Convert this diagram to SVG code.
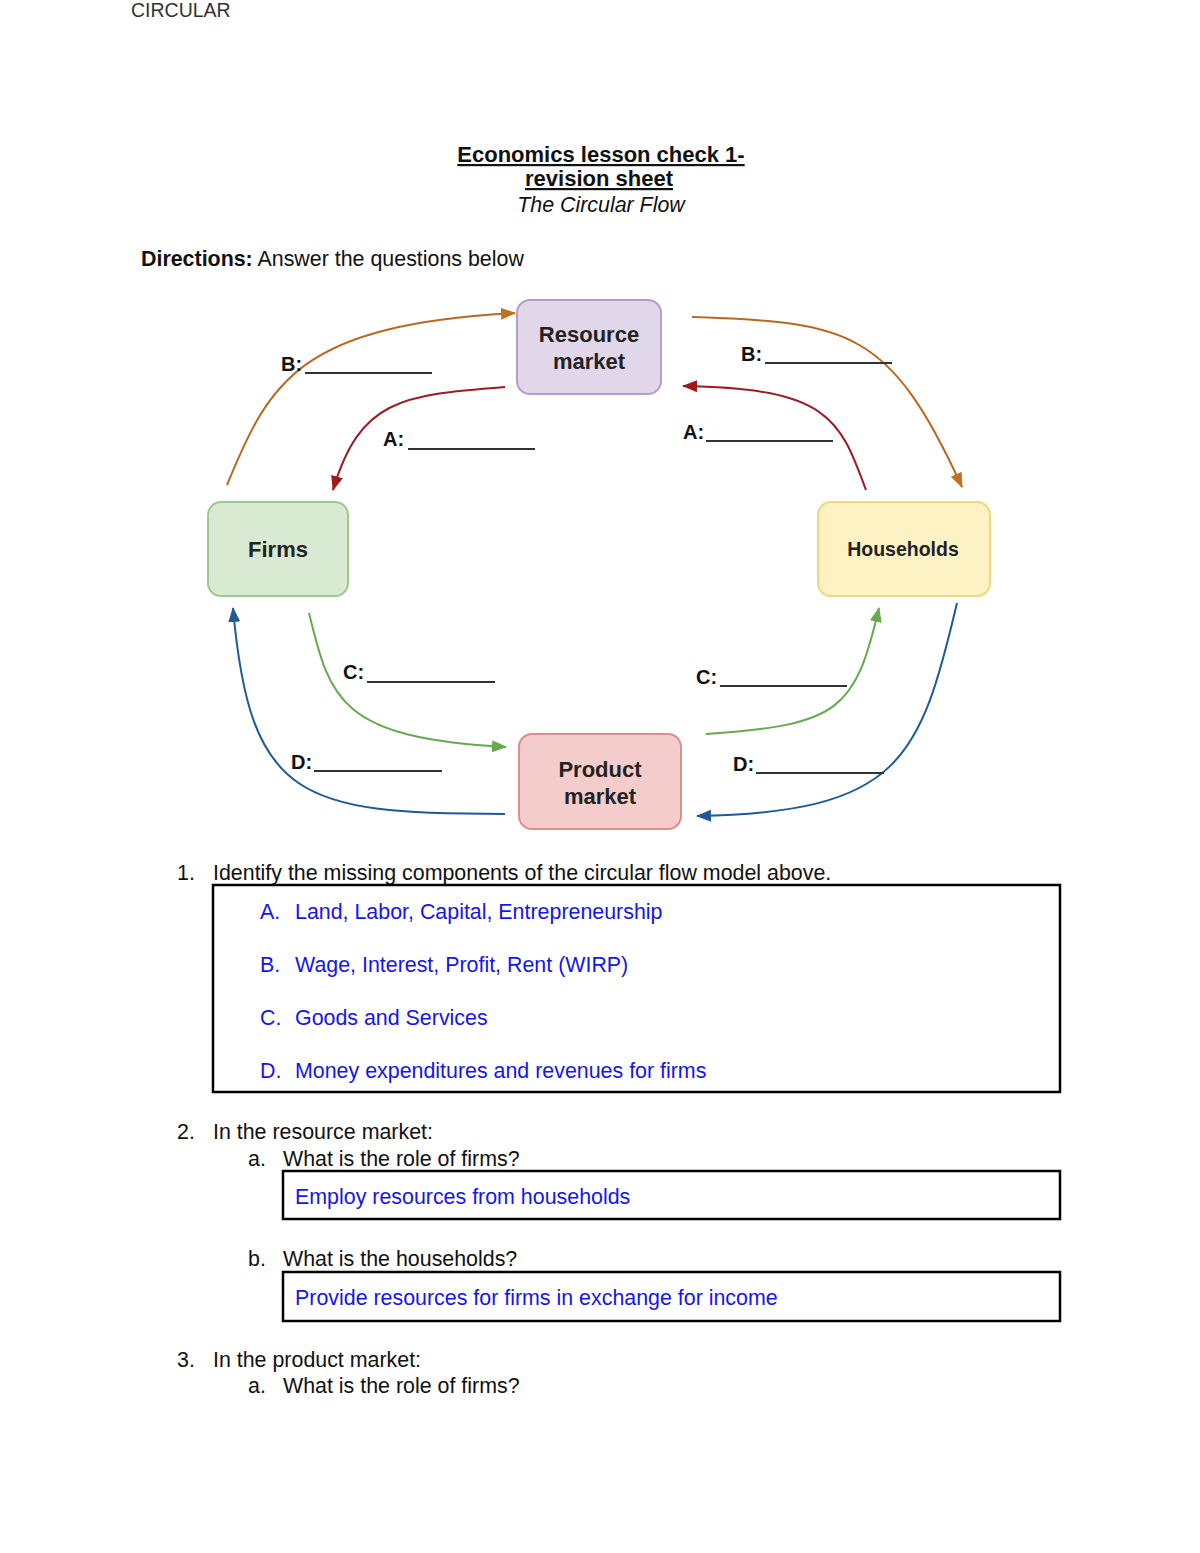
<svg xmlns="http://www.w3.org/2000/svg" width="1200" height="1553" viewBox="0 0 1200 1553">
<style>
text{font-family:"Liberation Sans",Arial,sans-serif;fill:#111}
.t{font-size:21.4px}
.b{font-weight:bold}
.n{font-size:22px;font-weight:bold;fill:#222;text-anchor:middle}
.lbl{font-size:20px;font-weight:bold;fill:#111}
.ul{stroke:#333;stroke-width:2}
.ans{font-size:21.4px;fill:#1515ee}
.box{fill:none;stroke:#000;stroke-width:2.5}
.c{fill:none;stroke-width:2}
</style>
<defs>
<marker id="mO" markerUnits="userSpaceOnUse" markerWidth="16" markerHeight="12" refX="14" refY="6" orient="auto"><path d="M0,0 L15,6 L0,12 Z" fill="#c0701f"/></marker>
<marker id="mR" markerUnits="userSpaceOnUse" markerWidth="16" markerHeight="12" refX="14" refY="6" orient="auto"><path d="M0,0 L15,6 L0,12 Z" fill="#a01818"/></marker>
<marker id="mG" markerUnits="userSpaceOnUse" markerWidth="16" markerHeight="12" refX="14" refY="6" orient="auto"><path d="M0,0 L15,6 L0,12 Z" fill="#6aa84f"/></marker>
<marker id="mB" markerUnits="userSpaceOnUse" markerWidth="16" markerHeight="12" refX="14" refY="6" orient="auto"><path d="M0,0 L15,6 L0,12 Z" fill="#1f5a96"/></marker>
</defs>
<rect width="1200" height="1553" fill="#fff"/>

<text x="131" y="17" style="font-size:19.5px;fill:#333">CIRCULAR</text>

<g id="title">
<text x="601" y="162" class="b" style="font-size:22px" text-anchor="middle" text-decoration="underline">Economics lesson check 1-</text>
<text x="599" y="186" class="b" style="font-size:22px" text-anchor="middle" text-decoration="underline">revision sheet</text>
<text x="601" y="212" class="t" text-anchor="middle" font-style="italic">The Circular Flow</text>
<text x="141" y="266" class="t"><tspan class="b">Directions:</tspan> Answer the questions below</text>
</g>

<g id="connectors">
<path class="c" stroke="#b8691f" d="M227,485 C270,380 300,325 515,313" marker-end="url(#mO)"/>
<path class="c" stroke="#b8691f" d="M692,317 C850,322 890,330 962,487" marker-end="url(#mO)"/>
<path class="c" stroke="#9b1c24" d="M505,387 C400,395 360,400 333,490" marker-end="url(#mR)"/>
<path class="c" stroke="#9b1c24" d="M866,490 C840,420 830,388 683,386" marker-end="url(#mR)"/>
<path class="c" stroke="#6aa84f" d="M309,613 C330,700 340,738 506,747" marker-end="url(#mG)"/>
<path class="c" stroke="#6aa84f" d="M706,734 C840,725 855,710 879,608" marker-end="url(#mG)"/>
<path class="c" stroke="#1f5a96" d="M505,814 C300,814 250,800 233,608" marker-end="url(#mB)"/>
<path class="c" stroke="#1f5a96" d="M957,603 C920,760 900,812 697,816" marker-end="url(#mB)"/>
</g>

<g id="labels">
<text x="281" y="371" class="lbl">B:</text><line class="ul" x1="305" y1="373" x2="432" y2="373"/>
<text x="383" y="446" class="lbl">A:</text><line class="ul" x1="408" y1="449" x2="535" y2="449"/>
<text x="741" y="361" class="lbl">B:</text><line class="ul" x1="765" y1="363" x2="892" y2="363"/>
<text x="683" y="439" class="lbl">A:</text><line class="ul" x1="706" y1="441" x2="833" y2="441"/>
<text x="343" y="679" class="lbl">C:</text><line class="ul" x1="367" y1="682" x2="495" y2="682"/>
<text x="696" y="684" class="lbl">C:</text><line class="ul" x1="720" y1="686" x2="847" y2="686"/>
<text x="291" y="769" class="lbl">D:</text><line class="ul" x1="314" y1="771" x2="442" y2="771"/>
<text x="733" y="771" class="lbl">D:</text><line class="ul" x1="756" y1="773" x2="884" y2="773"/>
</g>

<g id="resource-market">
<rect x="517" y="300" width="144" height="94" rx="13" fill="#e1d7eb" stroke="#b89cc9" stroke-width="2"/>
<text x="589" y="342" class="n">Resource</text>
<text x="589" y="369" class="n">market</text>
</g>
<g id="firms">
<rect x="208" y="502" width="140" height="94" rx="13" fill="#d9ead3" stroke="#9dc890" stroke-width="2"/>
<text x="278" y="557" class="n">Firms</text>
</g>
<g id="households">
<rect x="818" y="502" width="172" height="94" rx="13" fill="#fdf2c4" stroke="#f1d67a" stroke-width="2"/>
<text x="903" y="556" class="n" style="font-size:19.5px">Households</text>
</g>
<g id="product-market">
<rect x="519" y="734" width="162" height="95" rx="13" fill="#f4cccc" stroke="#dd8e8e" stroke-width="2"/>
<text x="600" y="777" class="n">Product</text>
<text x="600" y="804" class="n">market</text>
</g>

<g id="questions">
<text x="177" y="880" class="t">1.</text>
<text x="213" y="880" class="t">Identify the missing components of the circular flow model above.</text>
<rect class="box" x="213" y="885" width="847" height="207"/>
<text x="260" y="919" class="ans">A.</text><text x="295" y="919" class="ans">Land, Labor, Capital, Entrepreneurship</text>
<text x="260" y="972" class="ans">B.</text><text x="295" y="972" class="ans">Wage, Interest, Profit, Rent (WIRP)</text>
<text x="260" y="1025" class="ans">C.</text><text x="295" y="1025" class="ans">Goods and Services</text>
<text x="260" y="1078" class="ans">D.</text><text x="295" y="1078" class="ans">Money expenditures and revenues for firms</text>

<text x="177" y="1139" class="t">2.</text>
<text x="213" y="1139" class="t">In the resource market:</text>
<text x="248" y="1166" class="t">a.</text>
<text x="283" y="1166" class="t">What is the role of firms?</text>
<rect class="box" x="283" y="1171" width="777" height="48"/>
<text x="295" y="1204" class="ans">Employ resources from households</text>
<text x="248" y="1266" class="t">b.</text>
<text x="283" y="1266" class="t">What is the households?</text>
<rect class="box" x="283" y="1272" width="777" height="49"/>
<text x="295" y="1305" class="ans">Provide resources for firms in exchange for income</text>

<text x="177" y="1367" class="t">3.</text>
<text x="213" y="1367" class="t">In the product market:</text>
<text x="248" y="1393" class="t">a.</text>
<text x="283" y="1393" class="t">What is the role of firms?</text>
</g>
</svg>
